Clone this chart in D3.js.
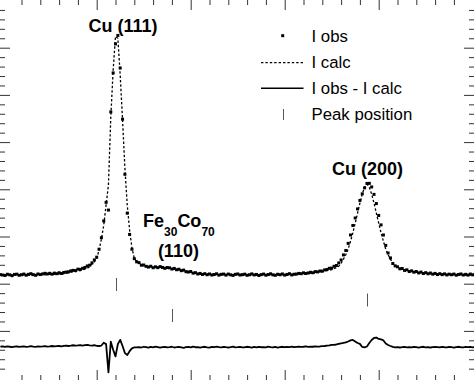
<!DOCTYPE html>
<html><head><meta charset="utf-8">
<script src="https://cdn.jsdelivr.net/npm/d3@7"></script>
<style>html,body{margin:0;padding:0;background:#fff;} svg{display:block;}</style>
</head><body>
<svg id="chart" width="474" height="380"></svg>
<script>
// ---- data (2θ grid in degrees, intensities in counts x10) ----
const twoThetaStart = 39.95;
const twoThetaStep = 0.05;

const iObs = [
109.6,109.2,108.7,110,109.4,108.5,109.8,110.1,108.9,109.5,
110.2,109,109.9,110.6,109.6,108.9,110.3,109.7,110.4,111,
110.3,111,110.1,111.2,110.6,111.6,110.8,111.9,
112.3,112.6,113.6,114.1,113.9,115.4,115.1,116.3,117.2,118.8,
119.6,122.1,125.2,128.1,136.5,148.7,166.5,186.2,178,282,
323.3,354,363,328.5,274.3,215.9,174.7,152.2,136.5,126.5,
123.2,122.3,119.6,119.8,118.4,117.6,118.5,116.9,117.9,117,
118.1,117.2,116.3,117.1,116.8,115.5,116.2,114.8,115.3,113.8,
114.4,112.7,112.4,112.9,111.2,111.7,110.3,110.9,109.8,110.6,109.5,
110.3,109.2,109.7,110.5,109.1,109.9,110.2,
109.1,110.2,109.4,108.8,109.9,110.3,109.2,109.6,110.1,108.9,
109.5,110.4,109.3,109.8,108.7,109.6,110.2,109,109.7,110.5,
109.4,108.9,110,109.5,110.3,109.1,109.8,110.6,109.3,110,
110.2,110.9,110.6,111.5,110.8,111.4,112.1,111.6,112.8,112.5,
113.4,113.3,114.6,115,116.3,116.5,118.4,119.3,122,125.1,
130.5,135.2,142.7,151.6,161.7,169.6,179.2,188.2,195.2,201.5,
206.2,206.3,202.5,194.6,184.9,172.3,162.3,151.6,140.6,132.5,
127.3,121.4,118.9,117.9,115.8,116.1,114.1,114.7,112.9,113.6,
112.2,112.9,111.4,112.3,110.8,111.7,110.5,111.3,110.1,110.9,
109.7,110.6,109.6,
110.4,109.3,110.1,109.5,
110.2,109,109.8,110.3,109.2,
109.9,109.1,110.2,109.4,109.8
];

const iCalc = [
109,109,109,109,109,109,109,109,109,109,
109.5,109.5,109.5,109.5,109.5,109.5,109.5,109.5,109.5,109.5,
110,110,110,110,110,110.5,110.5,110.5,
111,111.5,112.2,112.5,112.8,113.2,113.8,114.5,115.4,116.4,
118,120.7,123.3,127,135.5,147.2,162,183.2,205,276.5,
326.3,362,360,321,273.3,222.4,183.2,156.7,138,127,
123.5,122.2,120.4,119.4,118.8,118.3,118,117.8,117.7,117.6,
117.5,117.3,117,116.7,116.4,116.1,115.7,115.3,114.8,114.3,
113.8,113.2,112.7,112.2,111.8,111.3,111,110.7,110.5,110.3,110.1,
109.9,109.9,109.9,109.9,109.9,109.9,109.9,
109.6,109.6,109.6,109.6,109.6,109.6,109.6,109.6,109.6,109.6,
109.6,109.6,109.6,109.6,109.6,109.6,109.6,109.6,109.6,109.6,
109.6,109.6,109.6,109.6,109.6,109.6,109.6,109.6,109.6,109.6,
109.8,110,110.1,110.3,110.5,110.7,111,111.3,111.6,112.1,
112.5,112.9,113.3,113.9,114.3,114.8,115.9,117,118.5,121.7,
126,130.7,136.6,145,154,164.1,174.7,185.3,194.9,202.3,
205.5,202.3,194.9,185.3,174.7,164.1,154,145,136.6,130.7,
126,121.7,119.1,117.5,116.4,115.4,114.6,114,113.5,113,
112.6,112.3,112,111.7,111.4,111.2,111,110.8,110.6,110.4,
110.3,110.2,110.1,
109.8,109.8,109.8,109.8,
109.6,109.6,109.6,109.6,109.6,
109.5,109.5,109.5,109.5,109.5
];

const iDiff = [
0.3,0.5,0,0.6,0.2,-0.2,0.4,0.7,0.1,0.3,0.5,0,0.3,0.8,0.4,0.1,0.6,0.3,0.5,0.9,0.4,0.6,1,0.5,0.8,
1,0.7,1.2,1.5,1,1.3,1.8,1.4,1.6,2,1.5,1.9,2.2,1.6,1.4,1.8,1.2,
1,1.5,4.5,3,-27,5.5,-3,-10,3,7.5,1,-6.5,-8.5,-4.5,-1.5,-0.5,
-0.4,-0.1,-0.6,0.2,-0.3,-0.8,0,-0.5,0.3,-0.2,-0.7,-0.1,0.1,
-0.5,-0.2,0.2,-0.6,-0.3,0.1,-0.4,-0.9,-0.2,0,-0.5,0.3,-0.3,
-0.1,-0.6,-0.2,0.2,-0.4,-0.7,0,-0.3,0.4,-0.2,-0.5,0.1,-0.3,
-0.6,-0.1,0.3,-0.4,-0.2,0.1,-0.5,-0.3,0.2,-0.1,-0.6,0,-0.4,
0.2,-0.3,-0.1,-0.5,0.3,-0.2,-0.4,0.1,-0.6,-0.2,0.2,-0.3,0,
-0.1,0.3,-0.2,0.1,0.4,0,0.2,0.5,0.1,0.3,0.2,0.6,0.4,
0.5,0.8,1,1.3,1.6,2.1,2.1,2.6,3.2,3.7,4.2,4.8,5.8,6.9,7.4,5.8,4.2,3.2,0,-0.5,0.5,
4.2,7.4,9.5,10,8.5,8,6.9,3.7,2.1,1,0,-0.5,
-0.3,-0.6,-0.2,0.1,-0.4,-0.1,-0.5,0,-0.3,-0.7,
-0.2,0.2,-0.4,-0.1,-0.6,-0.3,0,-0.2,-0.5,0.1,
-0.3,-0.4,0,-0.2,-0.6,-0.1,0.2,-0.3,-0.5,0,
-0.2,0.1,-0.4,-0.2
];

const peakPositions = [42.41, 43.60, 47.75];   // Cu(111), Fe30Co70(110), Cu(200)
const peakRows = [0, 2, 1];

const xMajorTicks = [42, 44, 46, 48];
const xMinorTicks = [40.4,40.8,41.2,41.6,42.4,42.8,43.2,43.6,44.4,44.8,45.2,45.6,46.4,46.8,47.2,47.6,48.4,48.8,49.2,49.6];
const yMajorTicks = [50,100,150,200,250,300,350];
const yMinorTicks = [10,20,30,40,60,70,80,90,110,120,130,140,160,170,180,190,210,220,230,240,260,270,280,290,310,320,330,340,360,370,380,390];

const legendLabels = ["I obs", "I calc", "I obs - I calc", "Peak position"];
const diffOffset = 33;

// ---- drawing ----
const W = 474, H = 380;
const svg = d3.select("#chart");
const font = "'Liberation Sans', Arial, Helvetica, sans-serif";

const x = d3.scaleLinear().domain([40, 50]).range([2.7, 472.7]);
const y = d3.scaleLinear().domain([0, 400]).range([378.1, 0.5]);

const n = Math.min(iObs.length, iCalc.length, iDiff.length);
const pts = d3.range(n).map(i => ({t: twoThetaStart + i * twoThetaStep, obs: iObs[i], calc: iCalc[i], diff: iDiff[i]}));

// axes (ticks only, inward on all four sides)
function drawAxis(axisFn, scale, values, size, tx, ty) {
  const gAx = svg.append("g").attr("transform", `translate(${tx},${ty})`)
    .call(axisFn(scale).tickValues(values).tickSize(-size).tickFormat(""));
  gAx.select(".domain").remove();
  gAx.selectAll("line").attr("stroke", "#333").attr("stroke-width", 1);
  gAx.selectAll("text").remove();
}
[[d3.axisTop, 0, 0], [d3.axisBottom, 0, H]].forEach(([fn, tx, ty]) => {
  drawAxis(fn, x, xMinorTicks, 5, tx, ty);
  drawAxis(fn, x, xMajorTicks, 10, tx, ty);
});
[[d3.axisLeft, 0, 0], [d3.axisRight, W, 0]].forEach(([fn, tx, ty]) => {
  drawAxis(fn, y, yMinorTicks, 5, tx, ty);
  drawAxis(fn, y, yMajorTicks, 10, tx, ty);
});

// calc line (dotted)
svg.append("path").datum(pts)
  .attr("fill", "none").attr("stroke", "#000").attr("stroke-width", 1.3)
  .attr("stroke-dasharray", "2.4,2")
  .attr("d", d3.line().x(d => x(d.t)).y(d => y(d.calc)));

// observed points
svg.append("g").selectAll("rect").data(pts).join("rect")
  .attr("x", d => x(d.t) - 1.5).attr("y", d => y(d.obs) - 1.5)
  .attr("width", 3).attr("height", 3).attr("fill", "#000");

// difference
svg.append("path").datum(pts)
  .attr("fill", "none").attr("stroke", "#000").attr("stroke-width", 1.8)
  .attr("stroke-linejoin", "round")
  .attr("d", d3.line().x(d => x(d.t)).y(d => y(d.diff + diffOffset)));

// peak positions
svg.append("g").selectAll("line").data(peakPositions).join("line")
  .attr("x1", d => Math.round(x(d)) + 0.5).attr("x2", d => Math.round(x(d)) + 0.5)
  .attr("y1", (d, i) => 278 + peakRows[i] * 15.5)
  .attr("y2", (d, i) => 291 + peakRows[i] * 15.5)
  .attr("stroke", "#555").attr("stroke-width", 1);

// peak labels
const lab = svg.append("g").attr("font-family", font).attr("font-weight", "bold").attr("fill", "#000");
lab.append("text").attr("x", x(peakPositions[0]) + 7).attr("y", 32)
  .attr("text-anchor", "middle").attr("font-size", 18).text("Cu (111)");
lab.append("text").attr("x", x(peakPositions[2]) + 0.5).attr("y", 174.5)
  .attr("text-anchor", "middle").attr("font-size", 18).text("Cu (200)");
const fe = lab.append("text").attr("x", 143).attr("y", 226.5).attr("font-size", 18);
fe.append("tspan").text("Fe");
fe.append("tspan").attr("font-size", 12).attr("dy", 9).text("30");
fe.append("tspan").attr("font-size", 18).attr("dy", -9).text("Co");
fe.append("tspan").attr("font-size", 12).attr("dy", 9).text("70");
lab.append("text").attr("x", x(peakPositions[1]) + 6.5).attr("y", 257)
  .attr("text-anchor", "middle").attr("font-size", 18).text("(110)");

// legend
const lg = svg.append("g");
const rowY = [41.7, 68.3, 94, 120];
lg.selectAll("text").data(legendLabels).join("text")
  .attr("x", 311.5).attr("y", (d, i) => rowY[i])
  .attr("font-family", font).attr("font-size", 16.8).attr("fill", "#000")
  .text(d => d);
lg.append("rect").attr("x", 281.2).attr("y", 34.2).attr("width", 3).attr("height", 3).attr("fill", "#000");
lg.append("line").attr("x1", 261).attr("x2", 303.5).attr("y1", 62.7).attr("y2", 62.7)
  .attr("stroke", "#000").attr("stroke-width", 1.3).attr("stroke-dasharray", "2.4,2");
lg.append("line").attr("x1", 261).attr("x2", 303.5).attr("y1", 88.3).attr("y2", 88.3)
  .attr("stroke", "#000").attr("stroke-width", 1.6);
lg.append("line").attr("x1", 283.5).attr("x2", 283.5).attr("y1", 109).attr("y2", 120)
  .attr("stroke", "#555").attr("stroke-width", 1);
</script>
</body></html>
